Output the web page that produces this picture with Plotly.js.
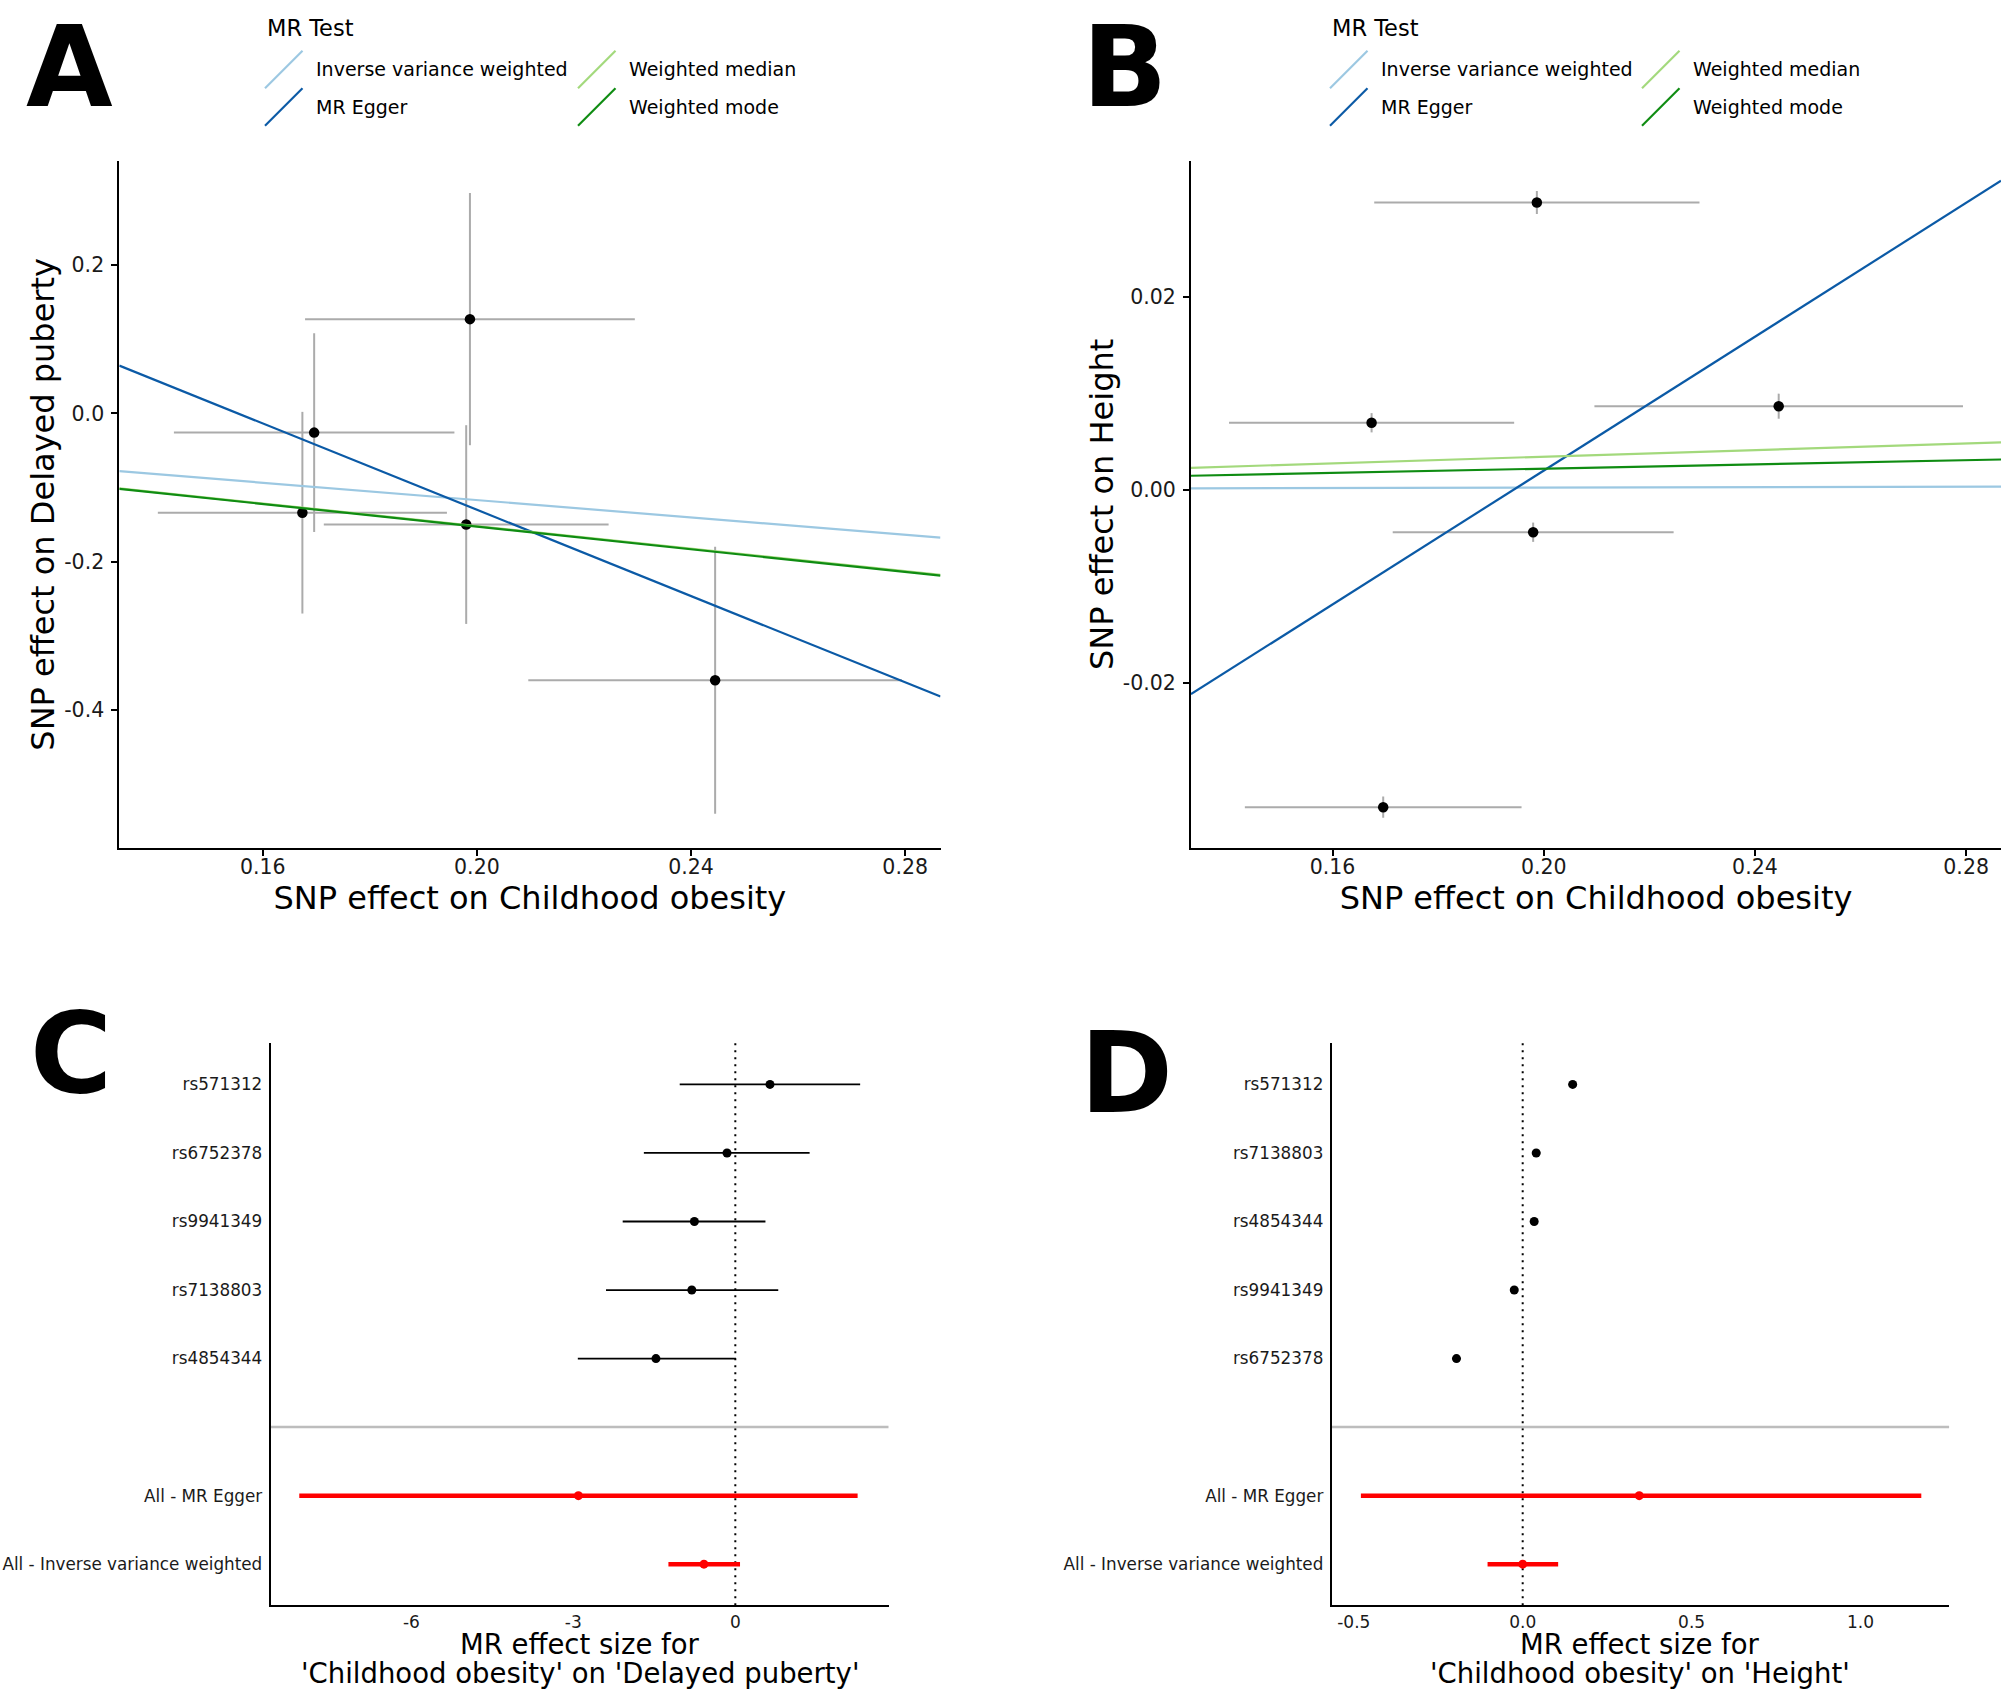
<!DOCTYPE html>
<html>
<head>
<meta charset="utf-8">
<script src="https://cdn.plot.ly/plotly-3.0.1.min.js"></script>
<style>html,body{margin:0;padding:0;background:#ffffff;}</style>
</head>
<body>
<div id="chart" style="width:2001px;height:1694px;"></div>
<script>
// ---------------- DATA ----------------
const snps = ["rs571312", "rs6752378", "rs7138803", "rs9941349", "rs4854344"];
const exposureBeta = [0.1987, 0.1696, 0.1674, 0.1980, 0.2445];
const exposureSE   = [0.0308, 0.0262, 0.0270, 0.0266, 0.0349];
const pubertyBeta  = [0.127, -0.026, -0.134, -0.150, -0.360];
const pubertySE    = [0.170, 0.134, 0.136, 0.134, 0.180];
const heightBeta   = [0.0298, -0.0329, 0.00696, -0.00439, 0.00868];
const heightSE     = [0.0012, 0.0011, 0.0010, 0.0010, 0.0013];

const methods = ["Inverse variance weighted", "MR Egger", "Weighted median", "Weighted mode"];
const pubertySlopes     = [-0.585, -2.91, -0.760, -0.764];
const pubertyIntercepts = [0, 0.452, 0, 0];
const heightSlopes      = [0.0012, 0.347, 0.0172, 0.011];
const heightIntercepts  = [0, -0.0674, 0, 0];

const scatterXTicks = [0.16, 0.20, 0.24, 0.28];
const scatterXTickText = ["0.16", "0.20", "0.24", "0.28"];
const pubertyYTicks = [-0.4, -0.2, 0.0, 0.2];
const pubertyYTickText = ["-0.4", "-0.2", "0.0", "0.2"];
const heightYTicks = [-0.02, 0.00, 0.02];
const heightYTickText = ["-0.02", "0.00", "0.02"];

const forestLabelsC = ["rs571312", "rs6752378", "rs9941349", "rs7138803", "rs4854344", "", "All - MR Egger", "All - Inverse variance weighted"];
const forestBetaC = [0.642, -0.154, -0.758, -0.806, -1.470, null, -2.906, -0.581];
const forestLoC   = [-1.030, -1.694, -2.086, -2.395, -2.917, null, -8.076, -1.239];
const forestHiC   = [2.312, 1.376, 0.558, 0.795, 0.013, null, 2.265, 0.087];
const forestXTicksC = [-6, -3, 0];
const forestXTickTextC = ["-6", "-3", "0"];
const forestTitleC = ["MR effect size for", "'Childhood obesity' on 'Delayed puberty'"];

const forestLabelsD = ["rs571312", "rs7138803", "rs4854344", "rs9941349", "rs6752378", "", "All - MR Egger", "All - Inverse variance weighted"];
const forestBetaD = [0.148, 0.040, 0.034, -0.025, -0.196, null, 0.345, 0.000];
const forestLoD   = [0.136, 0.028, 0.024, -0.035, -0.208, null, -0.479, -0.104];
const forestHiD   = [0.160, 0.052, 0.044, -0.015, -0.184, null, 1.180, 0.105];
const forestXTicksD = [-0.5, 0.0, 0.5, 1.0];
const forestXTickTextD = ["-0.5", "0.0", "0.5", "1.0"];
const forestTitleD = ["MR effect size for", "'Childhood obesity' on 'Height'"];

// ---------------- STYLE / LAYOUT HELPERS ----------------
const W = 2001, H = 1694;
const px = v => v / W;
const py = v => 1 - v / H;
const FONT = "DejaVu Sans";
const methodColors = ["#9cc8e2", "#0b5aa6", "#a3d97c", "#0f8c12"];
const errGrey = "#ababab";
const scatterXRange = [0.1332, 0.2866];

const traces = [];

function addScatterPanel(xa, ya, yBeta, ySE, slopes, intercepts) {
  traces.push({
    type: "scatter", mode: "markers", xaxis: xa, yaxis: ya,
    x: exposureBeta, y: yBeta, text: snps, hoverinfo: "text",
    marker: {color: "#000000", size: 10.5},
    error_x: {type: "data", array: exposureSE, color: errGrey, thickness: 2, width: 0},
    error_y: {type: "data", array: ySE, color: errGrey, thickness: 2, width: 0},
    showlegend: false
  });
  methods.forEach((m, i) => {
    traces.push({
      type: "scatter", mode: "lines", xaxis: xa, yaxis: ya, name: m,
      x: scatterXRange.slice(),
      y: scatterXRange.map(v => intercepts[i] + slopes[i] * v),
      line: {color: methodColors[i], width: 2.2},
      showlegend: false, hoverinfo: "name"
    });
  });
}

function addForestPanel(xa, ya, labels, beta, lo, hi) {
  const nSnp = labels.indexOf("");
  const rows = labels.map((_, i) => i + 1);
  const pick = (arr, a, b) => arr.slice(a, b);
  const snpIdx = [0, nSnp], sumIdx = [nSnp + 1, labels.length];
  [[snpIdx, "#000000", 1.8, 9], [sumIdx, "#ff0000", 4.5, 9]].forEach(([rg, col, th, sz]) => {
    const b = pick(beta, rg[0], rg[1]);
    const l = pick(lo, rg[0], rg[1]);
    traces.push({
      type: "scatter", mode: "markers", xaxis: xa, yaxis: ya,
      x: b, y: pick(rows, rg[0], rg[1]), text: pick(labels, rg[0], rg[1]), hoverinfo: "text+x",
      marker: {color: col, size: sz},
      error_x: {
        type: "data", symmetric: false,
        array: pick(hi, rg[0], rg[1]).map((h, k) => h - b[k]),
        arrayminus: b.map((v, k) => v - l[k]),
        color: col, thickness: th, width: 0
      },
      showlegend: false
    });
  });
}

addScatterPanel("x", "y", pubertyBeta, pubertySE, pubertySlopes, pubertyIntercepts);
addScatterPanel("x2", "y2", heightBeta, heightSE, heightSlopes, heightIntercepts);
addForestPanel("x3", "y3", forestLabelsC, forestBetaC, forestLoC, forestHiC);
addForestPanel("x4", "y4", forestLabelsD, forestBetaD, forestLoD, forestHiD);

const axisBase = {
  showline: true, linecolor: "#000000", linewidth: 2, mirror: false,
  showgrid: false, zeroline: false, fixedrange: true
};
const scatterTickFont = {family: FONT, size: 20.5, color: "#1a1a1a"};
const scatterTitleFont = {family: FONT, size: 32, color: "#000000"};
const forestTickFont = {family: FONT, size: 17, color: "#1a1a1a"};
const forestTitleFont = {family: FONT, size: 27.5, color: "#000000"};

function scatterX(domain, anchor) {
  return Object.assign({}, axisBase, {
    domain: domain, anchor: anchor, range: scatterXRange,
    tickmode: "array", tickvals: scatterXTicks, ticktext: scatterXTickText,
    ticks: "outside", ticklen: 6, tickwidth: 2, tickcolor: "#000000",
    tickfont: scatterTickFont, ticklabelstandoff: -6,
    title: {text: "SNP effect on Childhood obesity", font: scatterTitleFont, standoff: 6}
  });
}
function scatterY(domain, anchor, range, tv, tt, title) {
  return Object.assign({}, axisBase, {
    domain: domain, anchor: anchor, range: range,
    tickmode: "array", tickvals: tv, ticktext: tt,
    ticks: "outside", ticklen: 6, tickwidth: 2, tickcolor: "#000000",
    tickfont: scatterTickFont, ticklabelstandoff: 3,
    title: {text: title, font: scatterTitleFont, standoff: 0}
  });
}
function forestX(domain, anchor, range, tv, tt) {
  return Object.assign({}, axisBase, {
    domain: domain, anchor: anchor, range: range,
    tickmode: "array", tickvals: tv, ticktext: tt, ticks: "",
    tickfont: forestTickFont
  });
}
function forestY(domain, anchor, labels) {
  return Object.assign({}, axisBase, {
    domain: domain, anchor: anchor, range: [labels.length + 0.6, 0.4],
    tickmode: "array", tickvals: labels.map((_, i) => i + 1), ticktext: labels, ticks: "",
    tickfont: {family: FONT, size: 16.8, color: "#1a1a1a"}, ticklabelstandoff: 3
  });
}

const topDom = [py(847.7), py(161)];
const botDom = [py(1605.3), py(1043.3)];

const shapes = [];
const annotations = [];

// forest reference lines
[["x3", "y3"], ["x4", "y4"]].forEach(([xa, ya]) => {
  shapes.push({type: "line", layer: "below", xref: xa, yref: ya + " domain", x0: 0, x1: 0, y0: 0, y1: 1,
    line: {color: "#000000", width: 2, dash: "2px,5px"}});
  shapes.push({type: "line", layer: "below", xref: xa + " domain", yref: ya, x0: 0, x1: 1, y0: 6, y1: 6,
    line: {color: "#bdbdbd", width: 2.5}});
});

// forest x-axis titles (two lines, tight spacing as in the reference)
[[forestTitleC, 579.5], [forestTitleD, 1640.4]].forEach(([lines, cx]) => {
  lines.forEach((t, k) => {
    annotations.push({xref: "paper", yref: "paper", x: px(cx), y: py(k === 0 ? 1644 : 1672.5),
      xanchor: "center", yanchor: "middle", text: t, showarrow: false, font: forestTitleFont});
  });
});

// custom legends (diagonal keys like ggplot abline keys)
function addLegend(titleX, keyX, textX) {
  annotations.push({xref: "paper", yref: "paper", x: px(titleX), y: py(28.5), xanchor: "left", yanchor: "middle",
    text: "MR Test", showarrow: false, font: {family: FONT, size: 22.5, color: "#000000"}});
  const rowY = [69.5, 107];
  methods.forEach((m, i) => {
    const col = Math.floor(i / 2), row = i % 2;
    const cx = keyX[col], cy = rowY[row];
    shapes.push({type: "line", xref: "paper", yref: "paper",
      x0: px(cx), y0: py(cy + 18.7), x1: px(cx + 37.5), y1: py(cy - 18.7),
      line: {color: methodColors[i], width: 2.2}});
    annotations.push({xref: "paper", yref: "paper", x: px(textX[col]), y: py(cy), xanchor: "left", yanchor: "middle",
      text: m, showarrow: false, font: {family: FONT, size: 19, color: "#000000"}});
  });
}
addLegend(265, [265, 578], [314, 627]);
addLegend(1330, [1330, 1642], [1379, 1691]);

// panel letters
const letterFont = {family: FONT, size: 112, weight: 700, color: "#000000"};
[["A", 24, 1, "top"], ["B", 1080, 1, "top"]].forEach(([t, x, y, a]) => {
  annotations.push({xref: "paper", yref: "paper", x: px(x), y: y, xanchor: "left", yanchor: a,
    text: t, showarrow: false, font: letterFont});
});
[["C", 28, 1052.5], ["D", 1078, 1072.5]].forEach(([t, x, y]) => {
  annotations.push({xref: "paper", yref: "paper", x: px(x), y: py(y), xanchor: "left", yanchor: "middle",
    text: t, showarrow: false, font: letterFont});
});

const layout = {
  width: W, height: H,
  margin: {l: 0, r: 0, t: 0, b: 0, pad: 0},
  paper_bgcolor: "#ffffff", plot_bgcolor: "#ffffff",
  showlegend: false,
  font: {family: FONT, color: "#000000"},
  xaxis: scatterX([px(119.3), px(940.5)], "y"),
  yaxis: scatterY(topDom, "x", [-0.5858, 0.3403], pubertyYTicks, pubertyYTickText, "SNP effect on Delayed puberty"),
  xaxis2: scatterX([px(1191), px(2001)], "y2"),
  yaxis2: scatterY(topDom, "x2", [-0.0371, 0.0341], heightYTicks, heightYTickText, "SNP effect on Height"),
  xaxis3: forestX([px(270.6), px(888.5)], "y3", [-8.607, 2.837], forestXTicksC, forestXTickTextC),
  yaxis3: forestY(botDom, "x3", forestLabelsC),
  xaxis4: forestX([px(1331.7), px(1949.1)], "y4", [-0.5654, 1.2623], forestXTicksD, forestXTickTextD),
  yaxis4: forestY(botDom, "x4", forestLabelsD),
  shapes: shapes,
  annotations: annotations
};

Plotly.newPlot("chart", traces, layout, {staticPlot: true, displayModeBar: false});
</script>
</body>
</html>
